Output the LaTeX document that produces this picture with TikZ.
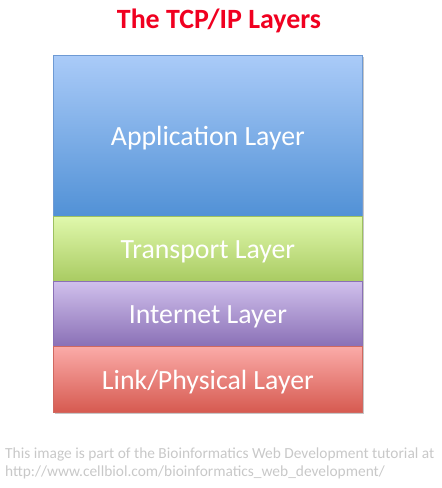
\documentclass[tikz,border=0pt]{standalone}
\usepackage{fontspec}
\setmainfont{Carlito}
\definecolor{titlered}{HTML}{F00020}
\definecolor{appT}{HTML}{AACBF8}
\definecolor{appB}{HTML}{5191D6}
\definecolor{appD}{HTML}{6E9AD4}
\definecolor{trT}{HTML}{E0F8AC}
\definecolor{trB}{HTML}{A9CB62}
\definecolor{trD}{HTML}{9DC060}
\definecolor{inT}{HTML}{D0C0EC}
\definecolor{inB}{HTML}{8A70B6}
\definecolor{inD}{HTML}{8A70B6}
\definecolor{lkT}{HTML}{FBABA8}
\definecolor{lkB}{HTML}{D65A50}
\definecolor{lkD}{HTML}{D06860}
\definecolor{foot}{HTML}{C8C8C8}
\tikzset{
  layer/.style={rectangle, anchor=north west, minimum width=309pt, inner sep=0pt,
    line width=0.8pt},
  layertext/.style={text=white, font=\fontsize{27.8}{32}\selectfont, inner sep=0pt, anchor=base},
  titletext/.style={font=\fontsize{27.9}{32}\selectfont\bfseries, text=titlered, inner sep=0pt, anchor=base},
  foottext/.style={font=\fontsize{15.4}{18}\selectfont, text=foot, anchor=base west, inner sep=0pt}
}
\begin{document}
\begin{tikzpicture}[x=1pt,y=-1pt]
\useasboundingbox (0,0) rectangle (442,488);
\fill[black!22] (55,57) rectangle (364,414);
\node[titletext] (title) at (219,28) {The TCP/IP Layers};
\node[layer, minimum height=161pt, top color=appT, bottom color=appB, draw=appD] (app) at (53,55) {};
\node[layer, minimum height=65pt, top color=trT, bottom color=trB, draw=trD] (tr) at (53,216) {};
\node[layer, minimum height=65pt, top color=inT, bottom color=inB, draw=inD] (in) at (53,281) {};
\node[layer, minimum height=66pt, top color=lkT, bottom color=lkB, draw=lkD] (lk) at (53,346) {};
\node[layertext] (appl) at ([yshift=-9.5pt]app.center) {Application Layer};
\node[layertext] (trl) at ([yshift=-9.5pt]tr.center) {Transport Layer};
\node[layertext] (inl) at ([yshift=-10pt]in.center) {Internet Layer};
\node[layertext] (lkl) at ([yshift=-10pt]lk.center) {Link/Physical Layer};
\node[foottext] (foot1) at (5,458) {This image is part of the Bioinformatics Web Development tutorial at};
\node[foottext] (foot2) at (5,476) {http://www.cellbiol.com/bioinformatics\_web\_development/};
\end{tikzpicture}
\end{document}
